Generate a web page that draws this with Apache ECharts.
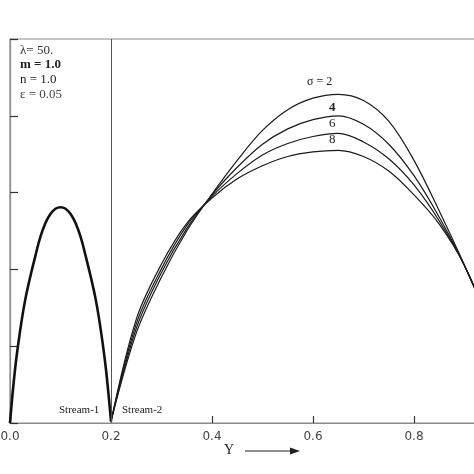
<!DOCTYPE html>
<html>
<head>
<meta charset="utf-8">
<script src="https://cdn.jsdelivr.net/npm/echarts@6/dist/echarts.min.js"></script>
<style>
html,body{margin:0;padding:0;background:#fff;}
#chart{width:474px;height:474px;}
</style>
</head>
<body>
<div id="chart"></div>
<script>
// Stream-1 (0 <= Y <= 0.2)
var yStream1 = [0, 0.01, 0.02, 0.03, 0.04, 0.05, 0.06, 0.07, 0.08, 0.09, 0.10, 0.11, 0.12, 0.13, 0.14, 0.15, 0.16, 0.17, 0.18, 0.19, 0.20];
var stream1 = [0, 0.70, 1.20, 1.60, 1.90, 2.17, 2.42, 2.60, 2.72, 2.79, 2.81, 2.79, 2.72, 2.60, 2.42, 2.17, 1.90, 1.60, 1.20, 0.70, 0.02];

// Stream-2 (0.2 <= Y <= 1.0)
var yStream2 = [0.20, 0.25, 0.30, 0.35, 0.40, 0.45, 0.50, 0.55, 0.60, 0.65, 0.70, 0.75, 0.80, 0.85, 0.90, 0.95, 1.00];
var sigma2 = [0.02, 1.17, 1.90, 2.50, 2.98, 3.42, 3.81, 4.08, 4.23, 4.28, 4.20, 3.93, 3.42, 2.76, 2.05, 1.25, 0];
var sigma4 = [0.02, 1.23, 1.96, 2.53, 2.97, 3.33, 3.63, 3.83, 3.95, 4.00, 3.89, 3.63, 3.22, 2.68, 2.05, 1.25, 0];
var sigma6 = [0.02, 1.29, 2.01, 2.57, 2.95, 3.25, 3.49, 3.64, 3.73, 3.77, 3.66, 3.44, 3.10, 2.63, 2.05, 1.25, 0];
var sigma8 = [0.02, 1.35, 2.07, 2.60, 2.93, 3.18, 3.35, 3.47, 3.53, 3.55, 3.47, 3.28, 2.97, 2.59, 2.05, 1.25, 0];

var xTicks = [0, 0.2, 0.4, 0.6, 0.8, 1.0];
var yTicks = [0, 1, 2, 3, 4, 5];
var sigmaLabels = ['\u03c3 = 2', '4', '6', '8'];

function pairs(xs, vs) { return xs.map(function (x, i) { return [x, vs[i]]; }); }

var chart = echarts.init(document.getElementById('chart'));
var serif = '"Liberation Serif", "DejaVu Serif", serif';
var s2style = { color: '#1a1a1a', width: 1.2 };
function s2(name, vals) {
  return { name: name, type: 'line', data: pairs(yStream2, vals), smooth: 0.35,
    symbol: 'none', lineStyle: s2style, clip: true };
}

var option = {
  animation: false,
  backgroundColor: '#fff',
  grid: { left: 10, top: 39, width: 505, height: 384, containLabel: false, outerBoundsMode: 'none',
    show: true, borderColor: '#8a8a8a', borderWidth: 1.2 },
  xAxis: {
    type: 'value', min: xTicks[0], max: xTicks[xTicks.length - 1], interval: 0.2,
    axisLine: { show: true, lineStyle: { color: '#8a8a8a', width: 1.2 } },
    axisTick: { show: true, inside: true, length: 7, lineStyle: { color: '#333', width: 1.2 } },
    axisLabel: { color: '#444', fontSize: 12, fontFamily: '"DejaVu Sans", sans-serif', margin: 8,
      formatter: function (v) { return v.toFixed(1); } },
    splitLine: { show: false }
  },
  yAxis: {
    type: 'value', min: yTicks[0], max: yTicks[yTicks.length - 1], interval: 1,
    axisLine: { show: true, lineStyle: { color: '#8a8a8a', width: 1.2 } },
    axisTick: { show: true, inside: true, length: 8, lineStyle: { color: '#333', width: 1.2 } },
    axisLabel: { show: false },
    splitLine: { show: false }
  },
  series: [
    { name: 'Stream-1', type: 'line', data: pairs(yStream1, stream1), smooth: 0.4, symbol: 'none',
      lineStyle: { color: '#111', width: 2.6 },
      markLine: { silent: true, symbol: 'none', label: { show: false },
        lineStyle: { color: '#555', width: 1, type: 'solid' }, data: [{ xAxis: 0.2 }] } },
    s2('sigma2', sigma2),
    s2('sigma4', sigma4),
    s2('sigma6', sigma6),
    s2('sigma8', sigma8)
  ],
  graphic: [
    { type: 'text', left: 20, top: 44, style: { text: '\u03bb= 50.', font: '13px ' + serif, fill: '#333' } },
    { type: 'text', left: 20, top: 58, style: { text: 'm = 1.0', font: 'bold 13px ' + serif, fill: '#222' } },
    { type: 'text', left: 20, top: 73, style: { text: 'n = 1.0', font: '13px ' + serif, fill: '#222' } },
    { type: 'text', left: 20, top: 88, style: { text: '\u03b5 = 0.05', font: '13px ' + serif, fill: '#444' } },
    { type: 'text', left: 307, top: 76, style: { text: sigmaLabels[0], font: '12px ' + serif, fill: '#222' } },
    { type: 'text', left: 329, top: 101, style: { text: sigmaLabels[1], font: 'bold 13px ' + serif, fill: '#222' } },
    { type: 'text', left: 329, top: 117, style: { text: sigmaLabels[2], font: '13px ' + serif, fill: '#222' } },
    { type: 'text', left: 329, top: 133, style: { text: sigmaLabels[3], font: '13px ' + serif, fill: '#222' } },
    { type: 'text', left: 59, top: 405, style: { text: 'Stream-1', font: '11px ' + serif, fill: '#222' } },
    { type: 'text', left: 122, top: 405, style: { text: 'Stream-2', font: '11px ' + serif, fill: '#222' } },
    { type: 'text', left: 224, top: 443, style: { text: 'Y', font: '14px ' + serif, fill: '#222' } },
    { type: 'line', shape: { x1: 245, y1: 451, x2: 292, y2: 451 }, style: { stroke: '#222', lineWidth: 1.2 } },
    { type: 'polygon', shape: { points: [[300, 451], [290, 447.5], [290, 454.5]] }, style: { fill: '#222' } }
  ]
};
chart.setOption(option);
</script>
</body>
</html>
